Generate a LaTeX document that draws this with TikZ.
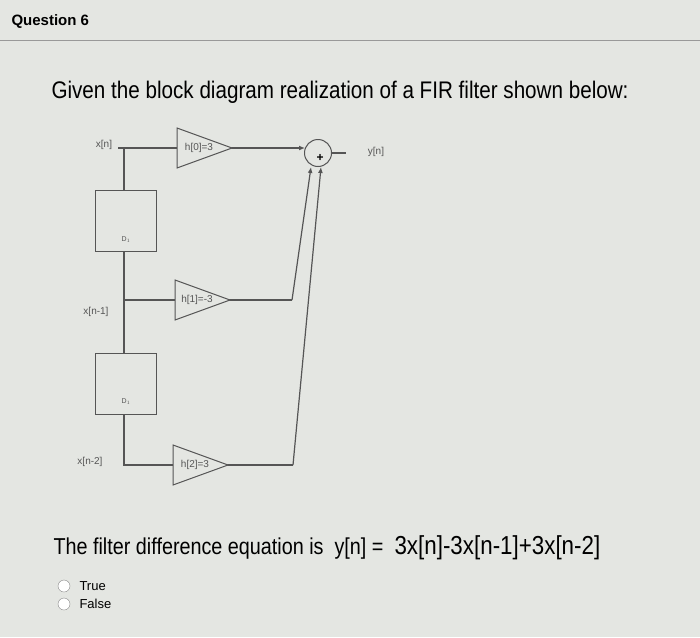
\documentclass[tikz,border=0pt]{standalone}
\usepackage{fontspec}
\setmainfont{Liberation Sans}
\usetikzlibrary{arrows.meta}
\definecolor{bg}{HTML}{E4E6E2}
\definecolor{ln}{HTML}{555555}
\tikzset{
  wire/.style={draw=ln,line width=1.2pt},
  arr/.style={wire,-{Latex[length=6pt,width=5pt]}},
  delay/.style={draw=ln,line width=1.1pt,minimum width=61pt,minimum height=61pt,inner sep=0pt},
  small/.style={font=\fontsize{10}{11}\selectfont,text=ln},
  gain/.style={draw=ln,line width=1pt,fill=bg}
}
\begin{document}
\begin{tikzpicture}[x=1pt,y=-1pt]
\fill[bg] (0,0) rectangle (700,637);
\useasboundingbox (0,0) rectangle (700,637);
\node[anchor=west,font=\bfseries\fontsize{15}{16}\selectfont] (q) at (8,22) {Question 6};
\draw[ln!60,line width=1pt] (0,40) -- (700,40);
\node[anchor=west,font=\fontsize{24}{26}\selectfont\addfontfeature{FakeStretch=0.86}] (t) at (48,92) {Given the block diagram realization of a FIR filter shown below:};
% labels
\node[small] (xn) at (104,145) {x[n]};
\node[small] (xn1) at (96,312) {x[n-1]};
\node[small] (xn2) at (90,462) {x[n-2]};
\node[small] (yn) at (376,152) {y[n]};
% summer
\node[draw=ln,line width=1pt,circle,minimum size=27pt,inner sep=0pt] (s) at (318,153) {};
\node[font=\bfseries\fontsize{12}{12}\selectfont] (plus) at (320,158) {+};
\coordinate (sin) at (305,148);
% delays
\node[delay] (d1) at (126,221) {};
\node[small,font=\fontsize{7}{8}\selectfont] (d1l) at (126,240) {D$_1$};
\node[delay] (d2) at (126,384) {};
\node[small,font=\fontsize{7}{8}\selectfont] (d2l) at (126,402) {D$_1$};
% junctions
\coordinate (j0) at (124,148);
\coordinate (j1) at (124,300);
\coordinate (j2) at (124,465);
\coordinate (e1) at (292,300);
\coordinate (e2) at (293,465);
% wires
\draw[wire] (118,148) -- (j0) -- (d1.north -| j0);
\draw[wire] (d1.south -| j0) -- (d2.north -| j0);
\draw[wire] (d2.south -| j0) -- (j2) -- (e2);
\draw[wire] (j1) -- (e1);
\draw[arr] (j0) -- (sin);
\draw[arr] (e1) -- (311,167);
\draw[arr] (e2) -- (321,167);
\draw[wire] (s.east) -- (346,153);
% gains
\draw[gain] (177,128) -- (232,148) -- (177,168) -- cycle;
\node[small] (g0) at (199,148) {h[0]=3};
\draw[gain] (175,280) -- (230,300) -- (175,320) -- cycle;
\node[small] (g1) at (197,300) {h[1]=-3};
\draw[gain] (173,445) -- (228,465) -- (173,485) -- cycle;
\node[small] (g2) at (195,465) {h[2]=3};
% equation
\node[anchor=west,font=\fontsize{23}{24}\selectfont\addfontfeature{FakeStretch=0.86}] (eq) at (50,548) {The filter difference equation is \ y[n] = \ {\fontsize{26}{26}\selectfont 3x[n]-3x[n-1]+3x[n-2]}};
% options
\node[draw=ln!70,fill=white,circle,minimum size=12pt,inner sep=0pt] (r1) at (64,586) {};
\node[draw=ln!70,fill=white,circle,minimum size=12pt,inner sep=0pt] (r2) at (64,604) {};
\node[anchor=west,font=\fontsize{13}{13}\selectfont] (tr) at (76,586) {True};
\node[anchor=west,font=\fontsize{13}{13}\selectfont] (fa) at (76,604) {False};
\end{tikzpicture}
\end{document}
